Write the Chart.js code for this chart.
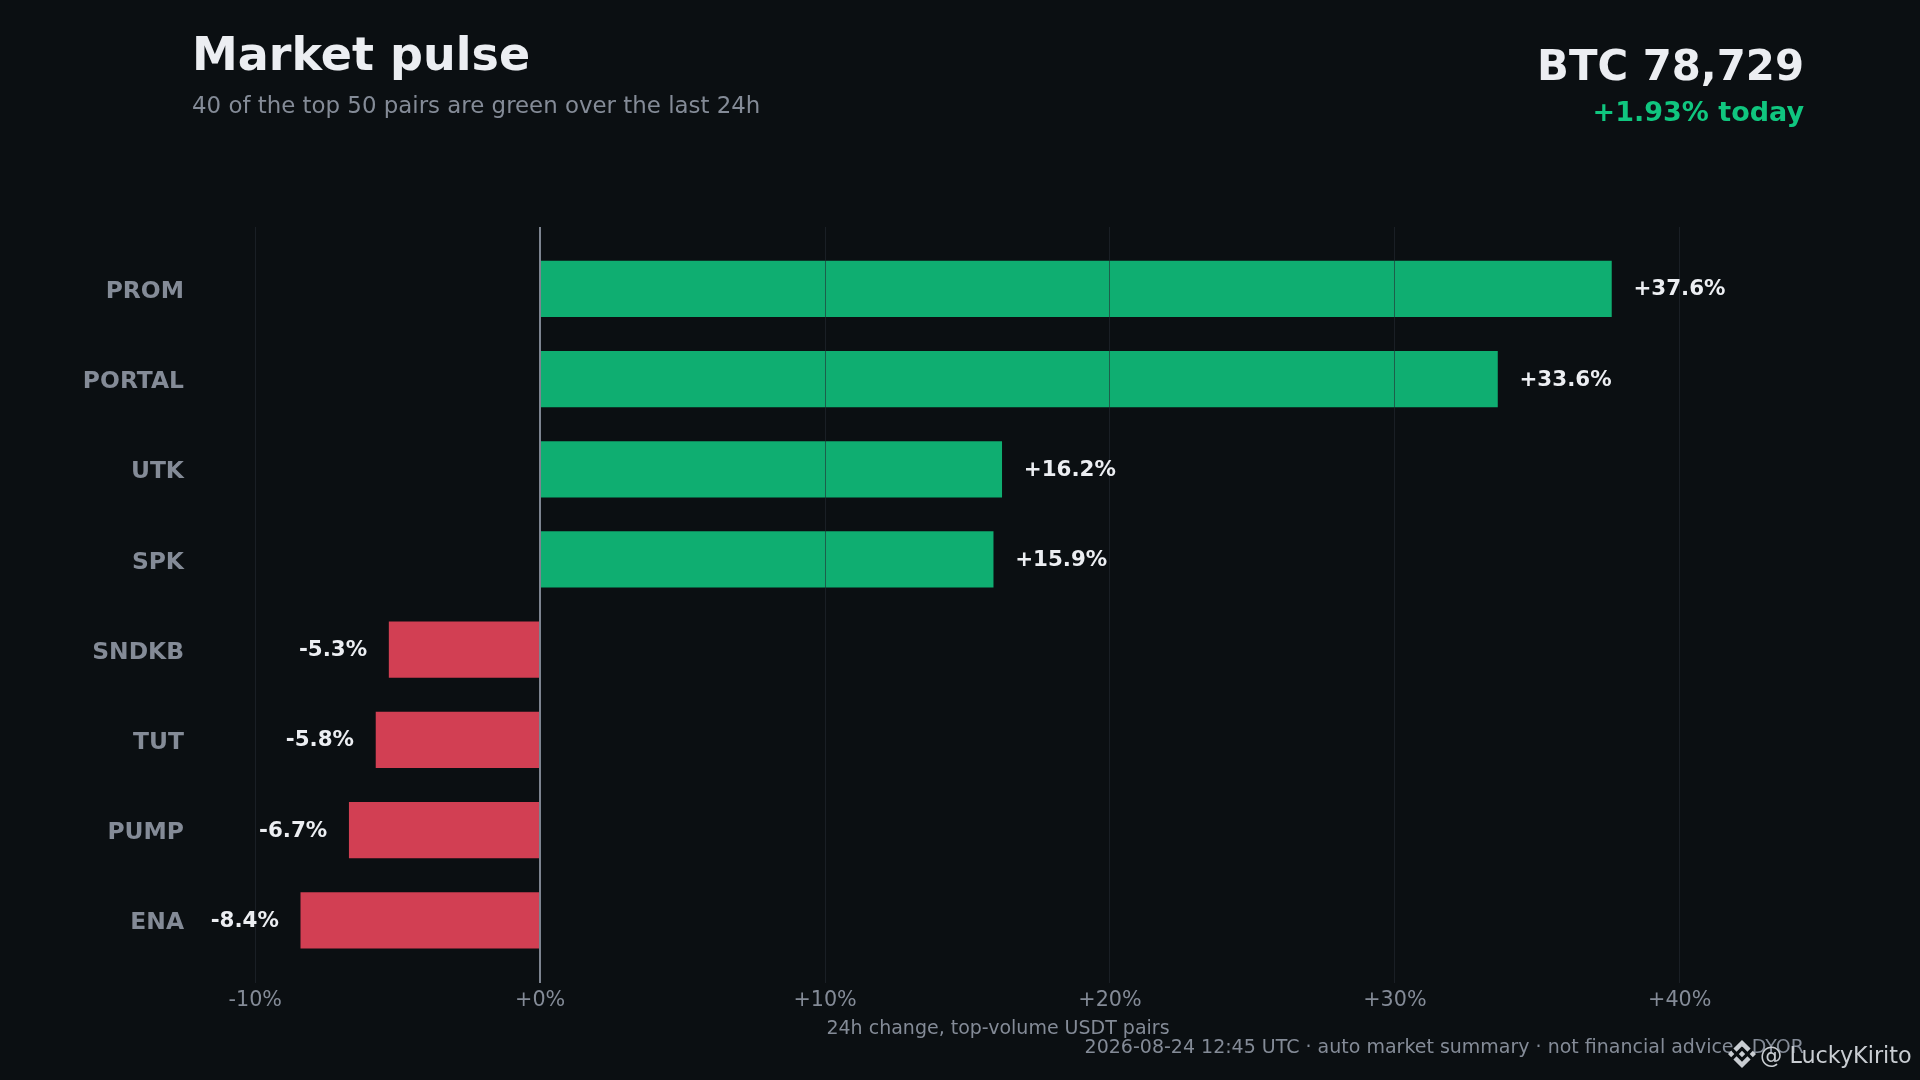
<!DOCTYPE html>
<html>
<head>
<meta charset="utf-8">
<title>Market pulse</title>
<script src="https://cdn.jsdelivr.net/npm/chart.js@4"></script>
<style>
  html, body { margin: 0; background: #0b0f12; }
  body { width: 1920px; height: 1080px; position: relative; overflow: hidden; font-family: "DejaVu Sans", sans-serif; }
  canvas { position: absolute; left: 0; top: 0; }
  .txt { position: absolute; white-space: nowrap; line-height: 1; }
  #title { left: 192px; top: 31px; font-size: 46px; font-weight: bold; color: #eceef2; }
  #subtitle { left: 192px; top: 94px; font-size: 22.9px; color: #848b97; }
  #price { right: 116px; top: 45px; font-size: 41.8px; font-weight: bold; color: #eceef2; }
  #today { right: 116px; top: 98px; font-size: 27px; font-weight: bold; color: #10c67f; }
  #footer { right: 116px; top: 1037px; font-size: 19px; color: #848b97; }
  #mark { left: 1760px; top: 1044px; font-size: 22.3px; color: #c9cdd2; }
  #logo { position: absolute; left: 1728px; top: 1040px; width: 28px; height: 28px; fill: #c9cdd2; }
</style>
</head>
<body>
<canvas id="chart" width="1920" height="1080"></canvas>
<div class="txt" id="title">Market pulse</div>
<div class="txt" id="subtitle">40 of the top 50 pairs are green over the last 24h</div>
<div class="txt" id="price">BTC 78,729</div>
<div class="txt" id="today">+1.93% today</div>
<div class="txt" id="footer">2026-08-24 12:45 UTC · auto market summary · not financial advice · DYOR</div>
<svg id="logo" viewBox="0 0 126.61 126.61"><path d="M38.73 53.2L63.3 28.64l24.59 24.59 14.3-14.3L63.3 0 24.43 38.9zM0 63.3l14.3-14.3 14.3 14.3-14.3 14.3zM38.73 73.41L63.3 97.98l24.59-24.59 14.31 14.29L63.3 126.61 24.43 87.73l-.02-.02zM97.99 63.31l14.3-14.3 14.32 14.3-14.3 14.3zM77.83 63.3L63.3 48.76 52.56 59.5l-1.24 1.23-2.54 2.54 14.52 14.52 14.53-14.49z"/></svg>
<div class="txt" id="mark">@ LuckyKirito</div>

<script>
const pairs = ["PROM", "PORTAL", "UTK", "SPK", "SNDKB", "TUT", "PUMP", "ENA"];
const changes = [37.6, 33.6, 16.2, 15.9, -5.3, -5.76, -6.7, -8.4];
const xTicks = [-10, 0, 10, 20, 30, 40];

const GREEN = "#0fae71";
const RED = "#d23f53";
const GRID = "rgba(36,42,50,0.6)";
const ZERO = "#7d8490";
const GRAY = "#848b97";
const FONT = "'DejaVu Sans', sans-serif";

// Value labels at the end of each bar
const barLabels = {
  id: "barLabels",
  afterDraw(chart) {
    const ctx = chart.ctx;
    ctx.save();
    ctx.font = "bold 21.4px " + FONT;
    ctx.fillStyle = "#eceef2";
    ctx.textBaseline = "middle";
    chart.getDatasetMeta(0).data.forEach((bar, i) => {
      const v = changes[i];
      const text = (v > 0 ? "+" : "") + v.toFixed(1) + "%";
      ctx.textAlign = v > 0 ? "left" : "right";
      ctx.fillText(text, bar.x + (v > 0 ? 22 : -22), bar.y + 1);
    });
    ctx.restore();
  },
};

new Chart(document.getElementById("chart"), {
  type: "bar",
  data: {
    datasets: [
      {
        data: pairs.map((p, i) => ({ x: changes[i], y: i })),
        backgroundColor: changes.map((v) => (v > 0 ? GREEN : RED)),
        barThickness: 55.6,
      },
    ],
  },
  plugins: [barLabels],
  options: {
    indexAxis: "y",
    responsive: false,
    animation: false,
    layout: { padding: { top: 227, right: 116, bottom: 40, left: 0 } },
    plugins: { legend: { display: false }, tooltip: { enabled: false } },
    scales: {
      x: {
        type: "linear",
        min: -12.22,
        max: 44.36,
        afterBuildTicks: (scale) => {
          scale.ticks = xTicks.map((value) => ({ value }));
        },
        afterFit: (scale) => {
          scale.height = 57;
        },
        border: { display: false },
        grid: {
          z: 1,
          drawTicks: false,
          color: (c) => (c.tick.value === 0 ? ZERO : GRID),
          lineWidth: (c) => (c.tick.value === 0 ? 2 : 1),
        },
        ticks: {
          color: GRAY,
          font: { family: FONT, size: 20.7 },
          padding: 5,
          maxRotation: 0,
          callback: (v) => (v < 0 ? "" : "+") + v + "%",
        },
        title: {
          display: true,
          text: "24h change, top-volume USDT pairs",
          color: GRAY,
          font: { family: FONT, size: 19 },
          padding: 0,
        },
      },
      y: {
        type: "linear",
        reverse: true,
        offset: false,
        min: -0.686,
        max: 7.695,
        afterBuildTicks: (scale) => {
          scale.ticks = pairs.map((p, i) => ({ value: i }));
        },
        afterFit: (scale) => {
          scale.width = 192;
        },
        border: { display: false },
        grid: { display: false, drawTicks: false },
        ticks: {
          color: GRAY,
          font: { family: FONT, size: 23.4, weight: "bold" },
          padding: 8,
          labelOffset: 3,
          callback: (v) => pairs[v],
        },
      },
    },
  },
});
</script>
</body>
</html>
